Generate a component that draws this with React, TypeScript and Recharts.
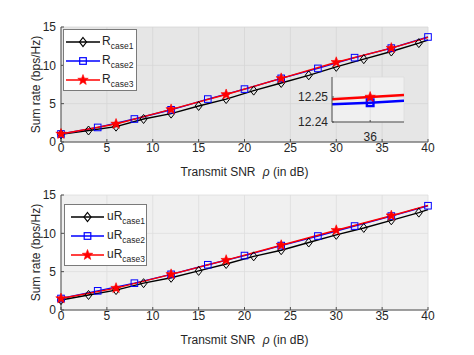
import {
  CartesianGrid,
  Label,
  Legend,
  Line,
  LineChart,
  XAxis,
  YAxis,
} from "recharts";

// transmit SNR (dB) sample points for each curve
const snrCase1 = [0, 3, 6, 9, 12, 15, 18, 21, 24, 27, 30, 33, 36, 39, 40];
const snrCase2 = [0, 4, 8, 12, 16, 20, 24, 28, 32, 36, 40];
const snrCase3 = [0, 6, 12, 18, 24, 30, 36, 40];

// upper panel: R
const rCase1 = [1.0, 1.5, 2.0, 3.0, 3.7, 4.7, 5.6, 6.7, 7.7, 8.7, 9.8, 10.8, 11.8, 12.9, 13.3];
const rCase2 = [1.05, 1.9, 3.0, 4.2, 5.6, 6.9, 8.3, 9.6, 11.0, 12.245, 13.7];
const rCase3 = [1.05, 2.35, 4.25, 6.2, 8.3, 10.4, 12.25, 13.65];

// lower panel: uR
const urCase1 = [1.3, 1.96, 2.6, 3.5, 4.2, 5.1, 6.0, 7.0, 7.8, 8.8, 9.8, 10.7, 11.7, 12.7, 13.1];
const urCase2 = [1.5, 2.5, 3.5, 4.65, 5.9, 7.1, 8.4, 9.65, 10.95, 12.25, 13.6];
const urCase3 = [1.5, 2.85, 4.65, 6.5, 8.45, 10.4, 12.3, 13.65];

// zoomed inset around 36 dB
const insetSnr = [35.9947, 36, 36.0047];
const insetCase2 = [12.2471, 12.2477, 12.2485];
const insetCase3 = [12.2491, 12.25, 12.2508];

const xTicks = [0, 5, 10, 15, 20, 25, 30, 35, 40];
const yTicks = [0, 5, 10, 15];
const insetYTicks = [12.24, 12.25];
const insetXTicks = [36];

const FONT = '"Liberation Sans", Arial, Helvetica, sans-serif';
const TXT = "#262626";
const AX = "#4d4d4d";

const pts = (xs: number[], ys: number[]) => xs.map((x, i) => ({ x, y: ys[i] }));

type Marker = "diamond" | "square" | "star";

function starPath(cx: number, cy: number, ro: number, ri: number) {
  let d = "";
  for (let i = 0; i < 10; i++) {
    const r = i % 2 === 0 ? ro : ri;
    const a = -Math.PI / 2 + (i * Math.PI) / 5;
    d += `${i === 0 ? "M" : "L"}${(cx + r * Math.cos(a)).toFixed(2)},${(cy + r * Math.sin(a)).toFixed(2)}`;
  }
  return d + "Z";
}

function MarkerShape({ kind, cx, cy, color, sw = 1 }: { kind: Marker; cx: number; cy: number; color: string; sw?: number }) {
  if (kind === "diamond")
    return (
      <path
        d={`M${cx},${cy - 4.5}L${cx + 3.5},${cy}L${cx},${cy + 4.5}L${cx - 3.5},${cy}Z`}
        fill="none"
        stroke={color}
        strokeWidth={sw}
      />
    );
  if (kind === "square")
    return <rect x={cx - 3.3} y={cy - 3.3} width={6.6} height={6.6} fill="none" stroke={color} strokeWidth={sw} />;
  return <path d={starPath(cx, cy, 5.5, 2.3)} fill={color} stroke={color} strokeWidth={0.6} />;
}

const makeDot = (kind: Marker, color: string, keep: (x: number) => boolean, sw = 1) =>
  (props: any) => {
    const { cx, cy, payload, index } = props;
    if (!keep(payload.x) || cx == null || cy == null) return <g key={index} />;
    return (
      <g key={index}>
        <MarkerShape kind={kind} cx={cx} cy={cy} color={color} sw={sw} />
      </g>
    );
  };

function XLabel(props: any) {
  const { x, y, width } = props.viewBox;
  return (
    <text x={x + width / 2} y={y + 34} textAnchor="middle" fontSize={12} fontFamily={FONT} fill={TXT}>
      Transmit SNR <tspan fontStyle="italic" dx={4}>ρ</tspan> (in dB)
    </text>
  );
}

function YLabel(props: any) {
  const { y, height } = props.viewBox;
  const cx = 36;
  const cy = y + height / 2;
  return (
    <text
      x={cx}
      y={cy}
      transform={`rotate(-90 ${cx} ${cy})`}
      textAnchor="middle"
      dominantBaseline="central"
      fontSize={12}
      fontFamily={FONT}
      fill={TXT}
    >
      Sum rate (bps/Hz)
    </text>
  );
}

function LegendBox({ prefix, width, lineX, textX }: { prefix: string; width: number; lineX: [number, number]; textX: number }) {
  const rows: { kind: Marker; color: string; sub: string }[] = [
    { kind: "diamond", color: "#000000", sub: "case1" },
    { kind: "square", color: "#0000ff", sub: "case2" },
    { kind: "star", color: "#ff0000", sub: "case3" },
  ];
  const mid = (lineX[0] + lineX[1]) / 2;
  return (
    <svg width={width} height={62} style={{ display: "block" }}>
      <rect x={0.5} y={0.5} width={width - 1} height={61} fill="#ffffff" stroke="#7a7a7a" strokeWidth={1} />
      {rows.map((r, i) => {
        const yy = 13 + i * 19;
        return (
          <g key={r.sub}>
            <line x1={lineX[0]} x2={lineX[1]} y1={yy} y2={yy} stroke={r.color} strokeWidth={1.3} />
            <MarkerShape kind={r.kind} cx={mid} cy={yy} color={r.color} sw={1.2} />
            <text x={textX} y={yy + 3} fontSize={12} fontFamily={FONT} fill={TXT}>
              {prefix}
              <tspan fontSize={8.5} dy={4}>
                {r.sub}
              </tspan>
            </text>
          </g>
        );
      })}
    </svg>
  );
}

type PanelProps = {
  top: number;
  bg: string;
  grid: string;
  c1: number[];
  c2: number[];
  c3: number[];
  prefix: string;
  legendTop: number;
  legendLeft: number;
  legendWidth: number;
  lineX: [number, number];
  textX: number;
};

function Panel(p: PanelProps) {
  const tick = { fontSize: 12, fontFamily: FONT, fill: TXT };
  return (
    <div style={{ position: "absolute", left: 0, top: p.top }}>
      <LineChart width={474} height={185} margin={{ top: 27, right: 46, bottom: 0, left: 0 }}>
        <CartesianGrid fill={p.bg} stroke={p.grid} strokeWidth={0.8} horizontalValues={yTicks} verticalValues={xTicks} />
        <XAxis
          type="number"
          dataKey="x"
          domain={[0, 40]}
          ticks={xTicks}
          height={43}
          tick={tick}
          tickSize={-3}
          tickMargin={4}
          stroke={AX}
          allowDuplicatedCategory={false}
        >
          <Label content={XLabel} />
        </XAxis>
        <XAxis
          xAxisId="top"
          orientation="top"
          type="number"
          domain={[0, 40]}
          ticks={xTicks}
          height={0}
          tick={false}
          tickSize={-3}
          stroke={AX}
        />
        <YAxis
          type="number"
          domain={[0, 15]}
          ticks={yTicks}
          width={61}
          tick={tick}
          tickSize={-3}
          tickMargin={8}
          stroke={AX}
        >
          <Label content={YLabel} />
        </YAxis>
        <YAxis
          yAxisId="right"
          orientation="right"
          type="number"
          domain={[0, 15]}
          ticks={yTicks}
          width={0}
          tick={false}
          tickSize={-3}
          stroke={AX}
        />
        <Line
          data={pts(snrCase1, p.c1)}
          dataKey="y"
          stroke="#000000"
          strokeWidth={1.4}
          dot={makeDot("diamond", "#000000", (x) => x % 3 === 0)}
          isAnimationActive={false}
        />
        <Line
          data={pts(snrCase2, p.c2)}
          dataKey="y"
          stroke="#0000ff"
          strokeWidth={1.4}
          dot={makeDot("square", "#0000ff", (x) => x % 4 === 0)}
          isAnimationActive={false}
        />
        <Line
          data={pts(snrCase3, p.c3)}
          dataKey="y"
          stroke="#ff0000"
          strokeWidth={1.4}
          dot={makeDot("star", "#ff0000", (x) => x % 6 === 0)}
          isAnimationActive={false}
        />
        <Legend
          layout="vertical"
          align="center"
          verticalAlign="middle"
          wrapperStyle={{ top: p.legendTop, left: p.legendLeft, width: p.legendWidth, bottom: "auto", right: "auto" }}
          content={() => <LegendBox prefix={p.prefix} width={p.legendWidth} lineX={p.lineX} textX={p.textX} />}
        />
      </LineChart>
    </div>
  );
}

function Inset() {
  const tick = { fontSize: 12, fontFamily: FONT, fill: TXT };
  return (
    <div style={{ position: "absolute", left: 290, top: 70 }}>
      <LineChart width={120} height={75} margin={{ top: 7, right: 6, bottom: 0, left: 0 }}>
        <CartesianGrid fill="#f0f0f0" stroke="#dcdcdc" strokeWidth={0.8} />
        <XAxis
          type="number"
          dataKey="x"
          domain={[insetSnr[0], insetSnr[insetSnr.length - 1]]}
          ticks={insetXTicks}
          allowDataOverflow
          height={23}
          tick={tick}
          tickSize={-2}
          tickMargin={12}
          stroke={AX}
        />
        <XAxis xAxisId="top" orientation="top" type="number" domain={[0, 1]} height={0} tick={false} tickLine={false} stroke={AX} />
        <YAxis
          type="number"
          domain={[12.24, 12.258]}
          ticks={insetYTicks}
          allowDataOverflow
          tickFormatter={(v: number) => v.toFixed(2)}
          width={42}
          tick={tick}
          tickSize={-2}
          tickMargin={6}
          stroke={AX}
        />
        <YAxis yAxisId="right" orientation="right" type="number" domain={[0, 1]} width={0} tick={false} tickLine={false} stroke={AX} />
        <Line
          data={pts(insetSnr, insetCase2)}
          dataKey="y"
          stroke="#0000ff"
          strokeWidth={2.6}
          dot={makeDot("square", "#0000ff", (x) => x === 36, 2.4)}
          isAnimationActive={false}
        />
        <Line
          data={pts(insetSnr, insetCase3)}
          dataKey="y"
          stroke="#ff0000"
          strokeWidth={2.6}
          dot={makeDot("star", "#ff0000", (x) => x === 36)}
          isAnimationActive={false}
        />
      </LineChart>
    </div>
  );
}

export default function App() {
  return (
    <div style={{ position: "absolute", left: 0, top: 0, width: 474, height: 355, background: "#ffffff" }}>
      <Panel
        top={0}
        bg="#e6e6e6"
        grid="#d6d6d6"
        c1={rCase1}
        c2={rCase2}
        c3={rCase3}
        prefix="R"
        legendTop={29}
        legendLeft={63}
        legendWidth={74}
        lineX={[3, 37]}
        textX={39}
      />
      <Inset />
      <Panel
        top={168}
        bg="#f0f0f0"
        grid="#dddddd"
        c1={urCase1}
        c2={urCase2}
        c3={urCase3}
        prefix="uR"
        legendTop={36}
        legendLeft={64}
        legendWidth={83}
        lineX={[7, 40]}
        textX={43}
      />
    </div>
  );
}
